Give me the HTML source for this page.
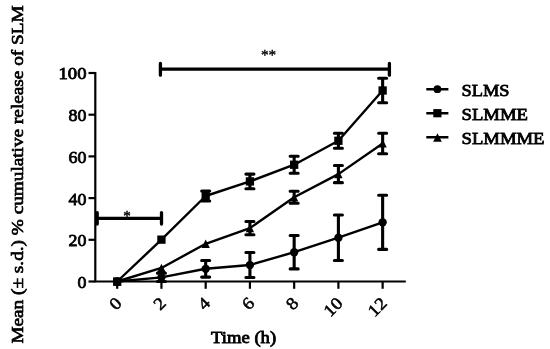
<!DOCTYPE html>
<html><head><meta charset="utf-8"><title>Cumulative release</title>
<style>html,body{margin:0;padding:0;background:#fff;}body{width:550px;height:349px;overflow:hidden;}svg{display:block;}</style>
</head><body>
<svg width="550" height="349" viewBox="0 0 550 349">
<g stroke="#000" stroke-width="2.2" fill="none" stroke-linecap="butt">
<path d="M95.3 72V282.6M94.2 281.5H405.8"/>
<path d="M88.5 281.50H95.3"/>
<path d="M88.5 239.80H95.3"/>
<path d="M88.5 198.10H95.3"/>
<path d="M88.5 156.40H95.3"/>
<path d="M88.5 114.70H95.3"/>
<path d="M88.5 73.00H95.3"/>
<path d="M117.20 281.5V288.8"/>
<path d="M161.44 281.5V288.8"/>
<path d="M205.68 281.5V288.8"/>
<path d="M249.92 281.5V288.8"/>
<path d="M294.16 281.5V288.8"/>
<path d="M338.40 281.5V288.8"/>
<path d="M382.64 281.5V288.8"/>
</g>
<g stroke="#000" stroke-width="3.3" fill="none" stroke-linecap="round">
<path d="M160.4 69.2H389.4M160.4 63.4V75.2M389.4 63.4V75.2"/>
<path d="M97.2 218.4H161.5M97.2 212.6V224.0M161.5 212.6V224.0"/>
</g>
<g stroke="#000" stroke-width="2.4" fill="none" stroke-linejoin="round">
<polyline points="117.20,281.50 161.44,239.65 205.68,196.01 249.92,181.42 294.16,164.74 338.40,140.76 382.64,90.51"/>
<polyline points="117.20,281.50 161.44,267.95 205.68,243.76 249.92,228.12 294.16,197.27 338.40,174.12 382.64,143.47"/>
<polyline points="117.20,281.50 161.44,277.33 205.68,268.78 249.92,265.03 294.16,252.21 338.40,237.72 382.64,222.29"/>
</g>
<g stroke="#000" stroke-width="3.1" fill="none" stroke-linecap="round">
<path d="M205.68 191.01V201.02M201.68 191.01H209.68M201.68 201.02H209.68"/>
<path d="M249.92 174.12V188.72M245.92 174.12H253.92M245.92 188.72H253.92"/>
<path d="M294.16 156.19V173.29M290.16 156.19H298.16M290.16 173.29H298.16"/>
<path d="M338.40 133.26V148.27M334.40 133.26H342.40M334.40 148.27H342.40"/>
<path d="M382.64 78.32V102.71M378.64 78.32H386.64M378.64 102.71H386.64"/>
<path d="M249.92 221.45V234.80M245.92 221.45H253.92M245.92 234.80H253.92"/>
<path d="M294.16 191.22V203.31M290.16 191.22H298.16M290.16 203.31H298.16"/>
<path d="M338.40 165.57V182.67M334.40 165.57H342.40M334.40 182.67H342.40"/>
<path d="M382.64 133.26V153.69M378.64 133.26H386.64M378.64 153.69H386.64"/>
<path d="M161.44 273.16V281.50M157.44 273.16H165.44M157.44 281.50H165.44"/>
<path d="M205.68 260.44V277.12M201.68 260.44H209.68M201.68 277.12H209.68"/>
<path d="M249.92 252.52V277.54M245.92 252.52H253.92M245.92 277.54H253.92"/>
<path d="M294.16 235.53V268.89M290.16 235.53H298.16M290.16 268.89H298.16"/>
<path d="M338.40 214.99V260.44M334.40 214.99H342.40M334.40 260.44H342.40"/>
<path d="M382.64 195.18V249.39M378.64 195.18H386.64M378.64 249.39H386.64"/>
</g>
<g fill="#000">
<circle cx="117.20" cy="281.50" r="4.15"/>
<circle cx="161.44" cy="277.33" r="4.15"/>
<circle cx="205.68" cy="268.78" r="4.15"/>
<circle cx="249.92" cy="265.03" r="4.15"/>
<circle cx="294.16" cy="252.21" r="4.15"/>
<circle cx="338.40" cy="237.72" r="4.15"/>
<circle cx="382.64" cy="222.29" r="4.15"/>
<path d="M117.20 277.35L121.35 285.65L113.05 285.65Z"/>
<path d="M161.44 263.80L165.59 272.10L157.29 272.10Z"/>
<path d="M205.68 239.61L209.83 247.91L201.53 247.91Z"/>
<path d="M249.92 223.97L254.07 232.27L245.77 232.27Z"/>
<path d="M294.16 193.12L298.31 201.42L290.01 201.42Z"/>
<path d="M338.40 169.97L342.55 178.27L334.25 178.27Z"/>
<path d="M382.64 139.32L386.79 147.62L378.49 147.62Z"/>
<rect x="113.05" y="277.35" width="8.30" height="8.30"/>
<rect x="157.29" y="235.50" width="8.30" height="8.30"/>
<rect x="201.53" y="191.86" width="8.30" height="8.30"/>
<rect x="245.77" y="177.27" width="8.30" height="8.30"/>
<rect x="290.01" y="160.59" width="8.30" height="8.30"/>
<rect x="334.25" y="136.61" width="8.30" height="8.30"/>
<rect x="378.49" y="86.36" width="8.30" height="8.30"/>
</g>
<g stroke="#000" stroke-width="2.4"><path d="M426.3 89.2H448.4M426.3 113.2H448.4M426.3 137.2H448.4"/></g>
<g fill="#000"><circle cx="437.40" cy="89.20" r="3.90"/><rect x="433.30" y="109.10" width="8.20" height="8.20"/><path d="M437.50 133.15L441.85 141.85L433.15 141.85Z"/></g>
<g font-family="Liberation Serif, serif" stroke="#000" stroke-width="0.8" font-size="17.7" fill="#000">
<text x="461.5" y="95.6" textLength="48.09" lengthAdjust="spacingAndGlyphs">SLMS</text>
<text x="461.5" y="119.6" textLength="66.40" lengthAdjust="spacingAndGlyphs">SLMME</text>
<text x="461.5" y="143.6" textLength="82.99" lengthAdjust="spacingAndGlyphs">SLMMME</text>
</g>
<g font-family="Liberation Serif, serif" stroke="#000" stroke-width="0.8" font-size="17.4" fill="#000" text-anchor="end">
<text x="86.5" y="287.90" textLength="8.96" lengthAdjust="spacingAndGlyphs">0</text>
<text x="86.5" y="246.20" textLength="17.92" lengthAdjust="spacingAndGlyphs">20</text>
<text x="86.5" y="204.50" textLength="17.92" lengthAdjust="spacingAndGlyphs">40</text>
<text x="86.5" y="162.80" textLength="17.92" lengthAdjust="spacingAndGlyphs">60</text>
<text x="86.5" y="121.10" textLength="17.92" lengthAdjust="spacingAndGlyphs">80</text>
<text x="86.5" y="79.40" textLength="28.06" lengthAdjust="spacingAndGlyphs">100</text>
</g>
<g font-family="Liberation Serif, serif" font-size="17.2" fill="#000" stroke="#000" stroke-width="0.5" text-anchor="end">
<text transform="translate(114.20 295.60) rotate(-45)" dy="0.7em" textLength="9.63" lengthAdjust="spacingAndGlyphs">0</text>
<text transform="translate(158.44 295.60) rotate(-45)" dy="0.7em" textLength="9.63" lengthAdjust="spacingAndGlyphs">2</text>
<text transform="translate(202.68 295.60) rotate(-45)" dy="0.7em" textLength="9.63" lengthAdjust="spacingAndGlyphs">4</text>
<text transform="translate(246.92 295.60) rotate(-45)" dy="0.7em" textLength="9.63" lengthAdjust="spacingAndGlyphs">6</text>
<text transform="translate(291.16 295.60) rotate(-45)" dy="0.7em" textLength="9.63" lengthAdjust="spacingAndGlyphs">8</text>
<text transform="translate(335.40 295.60) rotate(-45)" dy="0.7em" textLength="19.26" lengthAdjust="spacingAndGlyphs">10</text>
<text transform="translate(379.64 295.60) rotate(-45)" dy="0.7em" textLength="19.26" lengthAdjust="spacingAndGlyphs">12</text>
</g>
<text font-family="Liberation Serif, serif" stroke="#000" stroke-width="0.8" font-size="16.6" x="243.6" y="342.9" text-anchor="middle" textLength="65.12" lengthAdjust="spacingAndGlyphs">Time (h)</text>
<text font-family="Liberation Serif, serif" stroke="#000" stroke-width="0.7" font-size="17.6" transform="translate(23.0 174.5) rotate(-90)" text-anchor="middle" textLength="338.2" lengthAdjust="spacingAndGlyphs">Mean (± s.d.) % cumulative release of SLM</text>
<text font-family="Liberation Serif, serif" stroke="#000" stroke-width="0.35" font-size="15.5" x="268.6" y="60.2" text-anchor="middle" textLength="15.2" lengthAdjust="spacingAndGlyphs">**</text>
<text font-family="Liberation Serif, serif" font-size="15" x="127" y="221" text-anchor="middle" stroke="#000" stroke-width="0.45">*</text>
</svg>
</body></html>
